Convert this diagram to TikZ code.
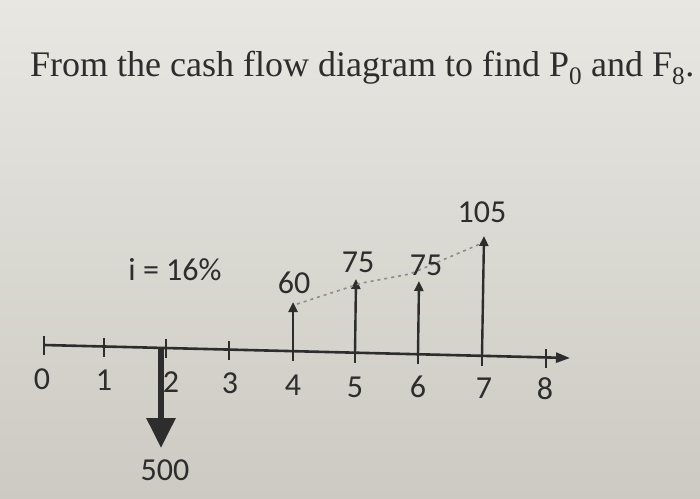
\documentclass[tikz,border=0pt]{standalone}
\usepackage{fontspec}
\setmainfont{Liberation Serif}
\newfontfamily\lblfont{Carlito}
\usetikzlibrary{arrows.meta}
\definecolor{ink}{RGB}{45,45,45}
\definecolor{papertop}{RGB}{232,231,226}
\definecolor{paperbot}{RGB}{204,202,194}
\definecolor{dotc}{RGB}{140,140,138}
\tikzset{
  lbl/.style={font=\lblfont\fontsize{32}{34}\selectfont, text=ink, inner sep=0pt},
  upflow/.style={draw=ink, line width=2.4pt, -{Triangle[width=9pt,length=10pt]}},
  downflow/.style={draw=ink, line width=6pt, -{Triangle[width=28pt,length=30pt]}},
  tickmark/.style={draw=ink, line width=1.6pt},
}
\begin{document}
\begin{tikzpicture}[x=1pt,y=-1pt]
\shade[top color=papertop, bottom color=paperbot] (0,0) rectangle (700,498);
\useasboundingbox (0,0) rectangle (700,498);
% title
\node[font=\fontsize{36}{38}\selectfont, text=ink, anchor=west, inner sep=0pt] (title) at (30,68)
  {From the cash flow diagram to find P\textsubscript{0} and F\textsubscript{8}.};
% axis coordinates
\coordinate (a0) at (44,345);
\coordinate (aend) at (570,358);
\coordinate (t0) at (44,345);
\coordinate (t1) at (104,346.5);
\coordinate (t2) at (166,348);
\coordinate (t3) at (229,349.6);
\coordinate (t4) at (293,351.2);
\coordinate (t5) at (355,352.7);
\coordinate (t6) at (418,354.3);
\coordinate (t7) at (482,355.9);
\coordinate (t8) at (546,357.5);
\draw[draw=ink, line width=2.6pt, -{Triangle[width=10pt,length=14pt]}] (a0) -- (aend);
\foreach \i in {0,...,8}{
  \draw[tickmark] ([yshift=-10pt]t\i) -- ([yshift=9pt]t\i);
}
% tick labels
\node[lbl] (l0) at (42,379) {0};
\node[lbl] (l1) at (104,380) {1};
\node[lbl] (l2) at (171,382) {2};
\node[lbl] (l3) at (230,383) {3};
\node[lbl] (l4) at (293,385) {4};
\node[lbl] (l5) at (355,387) {5};
\node[lbl] (l6) at (418,387) {6};
\node[lbl] (l7) at (484,388) {7};
\node[lbl] (l8) at (545,389) {8};
% flows
\coordinate (p4) at (293,302);
\coordinate (p5) at (356,279);
\coordinate (p6) at (419,281);
\coordinate (p7) at (484,236);
\coordinate (d2) at (161,347);
\coordinate (d2e) at (161,448);
\draw[upflow] (t4) -- (p4);
\draw[upflow] (t5) -- (p5);
\draw[upflow] (t6) -- (p6);
\draw[upflow] (t7) -- (p7);
\draw[downflow] (d2) -- (d2e);
% dotted gradient line
\coordinate (q1) at (297,304);
\coordinate (q2) at (362,283);
\coordinate (q3) at (410,274);
\coordinate (q4) at (480,244);
\draw[dotc, line width=1.6pt, dash pattern=on 3pt off 4pt] (q1) -- (q2) -- (q3) -- (q4);
% value labels
\node[lbl] (v60) at (294,283) {60};
\node[lbl] (v75a) at (358,262) {75};
\node[lbl] (v75b) at (426,265) {75};
\node[lbl] (v105) at (482,212) {105};
\node[lbl] (v500) at (165,470) {500};
\node[lbl] (rate) at (175,270) {i = 16\%};
\end{tikzpicture}
\end{document}
